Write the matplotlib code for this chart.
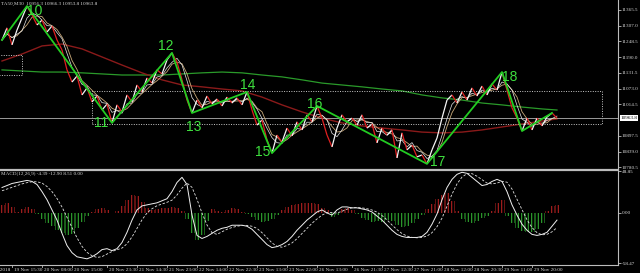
import numpy as np
import pandas as pd
import matplotlib
matplotlib.use("Agg")
import matplotlib.pyplot as plt
from matplotlib.collections import LineCollection
from matplotlib.lines import Line2D
import matplotlib.transforms as mtransforms

plt.rcParams['font.family'] = ['Liberation Serif', 'DejaVu Sans']
plt.rcParams['hatch.linewidth'] = 0.8

# M30 closes, one value per bar
closes = [11254, 11299, 11236, 11291, 11336, 11380, 11347, 11310, 11328, 11284,
          11306, 11254, 11217, 11143, 11098, 11120, 11050, 11076, 11024, 11046,
          10994, 11016, 10946, 11013, 10987, 11050, 11024, 11087, 11061, 11113,
          11094, 11143, 11128, 11180, 11206, 11172, 11106, 11031, 10983, 11031,
          11002, 11046, 11016, 11035, 11009, 11042, 11020, 11039, 11013, 11061,
          10994, 10938, 10957, 10883, 10834, 10901, 10875, 10927, 10898, 10950,
          10920, 10976, 10950, 11009, 10964, 10901, 10857, 10927, 10976, 10950,
          10964, 10938, 10976, 10927, 10942, 10872, 10927, 10901, 10920, 10816,
          10909, 10846, 10864, 10820, 10827, 10794, 10846, 10890, 10964, 11031,
          11050, 11020, 11061, 11031, 11076, 11046, 11083, 11050, 11091, 11068,
          11135, 11068, 11002, 10964, 10916, 10964, 10920, 10964, 10935, 10968,
          10983, 10963.8]

# slow moving averages, read every 4 bars
ma_bars = list(range(0, 112, 4)) + [111]
red_ma = [11176, 11202, 11232, 11239, 11221, 11191, 11161, 11132, 11106, 11087,
          11080, 11072, 11065, 11042, 11013, 10987, 10964, 10946, 10935, 10927,
          10920, 10912, 10909, 10912, 10920, 10931, 10942, 10953, 10961]
green_ma = [11143, 11139, 11135, 11135, 11132, 11128, 11124, 11124, 11124, 11128,
            11132, 11135, 11132, 11124, 11117, 11106, 11094, 11087, 11080, 11072,
            11065, 11050, 11039, 11031, 11020, 11013, 11005, 10998, 10994]

# zigzag pivots and wave numbers
zz_bars = [0, 5, 22, 34, 38, 49, 54, 63, 85, 100, 104, 110]
zz_prices = [11254, 11380, 10946, 11206, 10983, 11061, 10834, 11009, 10794, 11135, 10916, 10983]
wave_names = ['', '10', '11', '12', '13', '14', '15', '16', '17', '18', '', '']
wave_offsets = [(0, 0), (8, -5), (-11, 0), (-6, 7), (2, -14), (1, 7), (-9, 1), (-2, 2),
                (11, 2), (8, -5), (0, 0), (0, 0)]

# MACD(12,26,9)
macd_main = [29.8, 32.1, 34.5, 35.7, 36.9, 38.1, 36.9, 33.3, 25.0, 15.5,
             3.6, -8.3, -23.8, -38.1, -46.4, -51.2, -52.4, -53.6, -51.2, -47.6,
             -42.8, -41.7, -44.0, -41.7, -34.5, -22.6, -8.3, 3.6, 8.3, 9.5,
             10.7, 11.9, 14.3, 16.7, 25.0, 35.7, 41.7, 33.3, -2.4, -26.2,
             -29.8, -27.4, -23.8, -20.2, -17.9, -16.7, -14.3, -14.3, -14.3, -15.5,
             -19.0, -25.0, -30.9, -36.9, -40.5, -39.3, -36.9, -33.3, -27.4, -20.2,
             -14.3, -8.3, -3.6, 1.2, 3.6, 0.0, -2.4, 3.6, 7.1, 7.1,
             6.0, 6.0, 4.8, 3.6, 1.2, -3.6, -8.3, -14.3, -20.2, -25.0,
             -27.4, -28.6, -28.6, -28.6, -27.4, -22.6, -13.1, -1.2, 15.5, 29.8,
             39.3, 45.2, 47.6, 46.4, 41.7, 36.9, 32.1, 33.3, 36.9, 39.3,
             36.9, 25.0, 9.5, -2.4, -13.1, -20.2, -25.0, -26.2, -25.0, -22.6,
             -15.5, -8.3]
macd_signal = [26, 28, 30, 32, 34, 35.5, 36.5, 36.5, 35, 31,
               25, 17, 7, -5, -17, -29, -39, -46, -50, -52,
               -51, -48, -45, -43, -41, -36, -28, -18, -8, 0,
               5, 8.5, 10.5, 12.5, 15, 21, 29, 35, 30, 16,
               0, -14, -23, -25, -22, -19, -17, -15.5, -14.5, -14.5,
               -15.5, -18, -23, -29, -35, -39, -40, -38, -35, -30,
               -24, -18, -12, -7, -2.5, 0.5, 0.5, 0, 2, 4.5,
               6, 6.5, 6, 5, 3.5, 1, -3, -8, -14, -19.5,
               -24, -27, -28.5, -29, -28.5, -27, -23, -16, -6, 8,
               22, 34, 42, 46, 46, 43, 39, 35, 34, 35,
               37, 36, 28, 16, 4, -8, -17, -23, -25.5, -25,
               -22, -17]
macd_hist = [9.4, 11.7, 7.0, 1.2, 4.7, 7.0, 4.7, -1.2, -7.0, -11.7,
             -15.2, -19.9, -23.4, -25.7, -24.6, -17.6, -10.5, -3.5, 1.2, 4.7,
             5.9, 3.5, 0.0, 2.3, 8.2, 15.2, 21.1, 19.9, 12.9, 5.9,
             3.5, 4.7, 5.9, 5.9, 7.0, 5.9, 2.3, -7.0, -23.4, -31.6,
             -25.7, -9.4, 4.7, 2.3, 1.2, 3.5, 5.9, 4.7, 1.2, -1.2,
             -4.7, -8.2, -10.5, -9.4, -7.0, -2.3, 3.5, 7.0, 9.4, 10.5,
             11.7, 11.7, 11.7, 10.5, 5.9, 3.5, -4.7, -2.3, 4.7, 5.9,
             3.5, -1.2, -5.9, -8.2, -10.5, -9.4, -10.5, -8.2, -9.4, -14.0,
             -16.4, -15.2, -11.7, -7.0, -2.3, 4.7, 10.5, 16.4, 21.1, 23.4,
             14.0, 2.3, -7.0, -10.5, -11.7, -9.4, -5.9, -3.5, 2.3, 11.7,
             15.2, -3.5, -11.7, -17.6, -21.1, -22.2, -22.2, -18.7, -11.7, 2.3,
             8.2, 9.4]

price_ticks = [11365.5, 11307.0, 11248.5, 11190.0, 11131.5, 11073.0, 11014.5,
               10897.5, 10839.0, 10780.5]
last_price = 10963.8
macd_ticks = [48.85, 0.00, -58.47]

time_bars = [-4, 2, 8, 14, 21, 27, 33, 39, 45, 51, 57, 63, 70, 76, 82, 88, 94, 100, 106]
time_labels = ['16 Nov 2018', '19 Nov 15:30', '20 Nov 08:00', '20 Nov 15:00', '20 Nov 23:30',
               '21 Nov 14:30', '21 Nov 23:00', '22 Nov 14:00', '22 Nov 22:30', '23 Nov 13:00',
               '23 Nov 22:00', '26 Nov 13:00', '26 Nov 21:30', '27 Nov 12:30', '27 Nov 21:00',
               '28 Nov 12:00', '28 Nov 20:30', '29 Nov 11:00', '29 Nov 20:00']

# dotted boxes drawn on the chart (bars, prices)
box_bars = [18, 120]
box_prices = [10942, 11065]
small_box_bars = [-3, 4]
small_box_prices = [11124, 11198]

W, H = 640, 273
fig = plt.figure(figsize=(6.4, 2.73), dpi=100, facecolor='black')
ax = fig.add_axes([0, 1 - 169 / H, 618 / W, 169 / H])
axm = fig.add_axes([0, 1 - 265 / H, 618 / W, 94 / H])
axis_col = '#bcbcbc'
txt_col = '#d8d8d8'
fs = 3.7

x = np.arange(len(closes))
for a in (ax, axm):
    a.set_facecolor('black')
    a.set_xlim(-0.4, -0.4 + 618 / 5)
    for s in ('top', 'left', 'bottom'):
        a.spines[s].set_visible(False)
    a.spines['right'].set_color(axis_col)
    a.spines['right'].set_linewidth(0.8)
    a.set_xticks([])
    a.yaxis.tick_right()
    a.tick_params(axis='y', colors=axis_col, labelcolor=txt_col, labelsize=fs,
                  length=2, width=0.6, pad=0.8)

# ---- price panel
ax.set_ylim(10774.9, 11402.6)
ax.set_yticks(price_ticks)
ax.set_yticklabels([f'{v:.1f}' for v in price_ticks])

ax.plot(ma_bars, green_ma, color='#2a9a2a', lw=0.9, zorder=2)
ax.plot(ma_bars, red_ma, color='#8a1a1a', lw=1.0, zorder=2)

# dotted boxes
bx = [box_bars[0], box_bars[1], box_bars[1], box_bars[0], box_bars[0]]
by = [box_prices[0], box_prices[0], box_prices[1], box_prices[1], box_prices[0]]
ax.plot(bx, by, color='#c8c8c8', lw=0.7, ls=(0, (1, 1.5)), zorder=2)
sx = [small_box_bars[0], small_box_bars[1], small_box_bars[1], small_box_bars[0]]
sy = [small_box_prices[0], small_box_prices[0], small_box_prices[1], small_box_prices[1]]
ax.plot(sx, sy, color='#c8c8c8', lw=0.7, ls=(0, (1, 1.5)), zorder=2)

ax.axhline(last_price, color='#9a9a9a', lw=0.7, zorder=2)

# fast averages
s = pd.Series(closes)
ax.plot(x, s.rolling(4, min_periods=1).mean(), color='#c8a878', lw=0.6, zorder=3)
ax.plot(x, s.rolling(3, min_periods=1).mean(), color='#e8e8e8', lw=0.5, zorder=3)

# close path: white on rises, red on falls
pts = np.column_stack([x, closes])
segs = np.stack([pts[:-1], pts[1:]], axis=1)
cols = ['#f4f4f4' if closes[i + 1] >= closes[i] else '#e02020' for i in range(len(closes) - 1)]
ax.add_collection(LineCollection(segs, colors=cols, linewidths=0.9, zorder=4))

# zigzag and wave numbers
ax.plot(zz_bars, zz_prices, color='#22cc22', lw=1.3, zorder=5)
for b, p, name, off in zip(zz_bars, zz_prices, wave_names, wave_offsets):
    if name:
        ax.annotate(name, (b, p), xytext=off, textcoords='offset pixels',
                    ha='center', va='center', color='#3ee03e', fontsize=10,
                    family=['Liberation Sans', 'DejaVu Sans'], zorder=6)

# last price tag
trans = mtransforms.blended_transform_factory(ax.transAxes, ax.transData)
ax.text(1.004, last_price, f'{last_price:.1f}', transform=trans, fontsize=fs,
        color='black', va='center', ha='left',
        bbox=dict(boxstyle='square,pad=0.15', fc='white', ec='none'), clip_on=False)

fig.text(0.001, 1 - 3.5 / H, 'TA50,M30  10956.3 10966.3 10953.8 10963.8',
         color=txt_col, fontsize=fs, va='center', ha='left')

# ---- MACD panel
axm.set_ylim(-60.8, 49.1)
axm.set_yticks(macd_ticks)
axm.set_yticklabels([f'{v:.2f}' for v in macd_ticks])
axm.spines['bottom'].set_visible(True)
axm.spines['bottom'].set_color(axis_col)
axm.spines['bottom'].set_linewidth(0.8)

hcols = ['#b02020' if v >= 0 else '#30a830' for v in macd_hist]
axm.bar(x, macd_hist, width=1.0, facecolor='none', edgecolor=hcols, hatch='|||||',
        linewidth=0, zorder=2)
axm.plot(x, macd_main, color='#f0f0f0', lw=0.7, zorder=3)
axm.plot(x, macd_signal, color='#e0e0e0', lw=0.6, ls=(0, (3, 2)), zorder=3)

fig.text(0.001, 1 - 174 / H, 'MACD(12,26,9) -4.39 -12.90 8.51 0.00',
         color=txt_col, fontsize=fs, va='center', ha='left')

tt = mtransforms.blended_transform_factory(axm.transData, axm.transAxes)
for b, lab in zip(time_bars, time_labels):
    axm.plot([b, b], [0, -0.025], color=axis_col, lw=0.6, transform=tt, clip_on=False)
    axm.text(b + 0.3, -0.03, lab, transform=tt, fontsize=fs, color=txt_col,
             ha='left', va='top', clip_on=False)

# panel separator
fig.add_artist(Line2D([0, 618 / W], [1 - 170 / H, 1 - 170 / H], color=axis_col, lw=1.6))

fig.savefig('out.png', dpi=100, facecolor='black')
